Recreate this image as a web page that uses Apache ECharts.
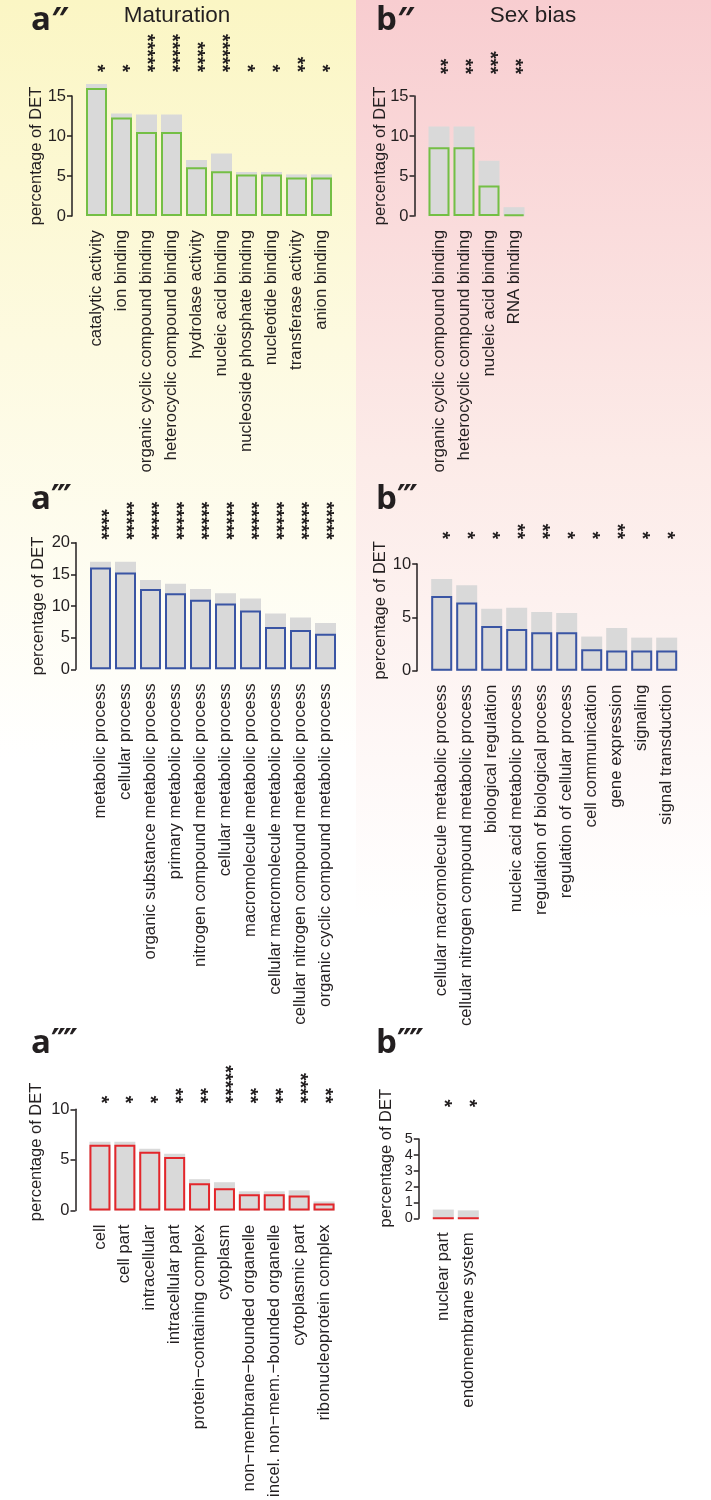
<!DOCTYPE html>
<html>
<head>
<meta charset="utf-8">
<script src="https://cdn.jsdelivr.net/npm/echarts@6/dist/echarts.min.js"></script>
<style>
  html, body { margin: 0; padding: 0; background: #ffffff; }
  #chart { width: 711px; height: 1500px; }
</style>
</head>
<body>
<div id="chart"></div>
<script>
// ---------- DATA ----------
// a'' Maturation – molecular function
const matMFCategories = ['catalytic activity', 'ion binding', 'organic cyclic compound binding', 'heterocyclic compound binding', 'hydrolase activity', 'nucleic acid binding', 'nucleoside phosphate binding', 'nucleotide binding', 'transferase activity', 'anion binding'];
const matMFTotal = [16.5, 12.8, 12.7, 12.7, 7.0, 7.8, 5.5, 5.5, 5.2, 5.2];
const matMFDET = [16.0, 12.3, 10.5, 10.5, 6.1, 5.6, 5.2, 5.2, 4.8, 4.8];
const matMFSig = ['*', '*', '*****', '*****', '****', '*****', '*', '*', '**', '*'];

// b'' Sex bias – molecular function
const sexMFCategories = ['organic cyclic compound binding', 'heterocyclic compound binding', 'nucleic acid binding', 'RNA binding'];
const sexMFTotal = [11.2, 11.2, 6.9, 1.1];
const sexMFDET = [8.6, 8.6, 3.8, 0.2];
const sexMFSig = ['**', '**', '***', '**'];

// a''' Maturation – biological process
const matBPCategories = ['metabolic process', 'cellular process', 'organic substance metabolic process', 'primary metabolic process', 'nitrogen compound metabolic process', 'cellular metabolic process', 'macromolecule metabolic process', 'cellular macromolecule metabolic process', 'cellular nitrogen compound metabolic process', 'organic cyclic compound metabolic process'];
const matBPTotal = [17.0, 17.0, 14.1, 13.5, 12.7, 12.0, 11.2, 8.8, 8.2, 7.3];
const matBPDET = [16.1, 15.3, 12.7, 12.0, 11.0, 10.4, 9.3, 6.7, 6.2, 5.6];
const matBPSig = ['****', '*****', '*****', '*****', '*****', '*****', '*****', '*****', '*****', '*****'];

// b''' Sex bias – biological process
const sexBPCategories = ['cellular macromolecule metabolic process', 'cellular nitrogen compound metabolic process', 'biological regulation', 'nucleic acid metabolic process', 'regulation of biological process', 'regulation of cellular process', 'cell communication', 'gene expression', 'signaling', 'signal transduction'];
const sexBPTotal = [8.6, 8.0, 5.8, 5.9, 5.5, 5.4, 3.2, 4.0, 3.1, 3.1];
const sexBPDET = [7.0, 6.4, 4.2, 3.9, 3.6, 3.6, 2.0, 1.9, 1.9, 1.9];
const sexBPSig = ['*', '*', '*', '**', '**', '*', '*', '**', '*', '*'];

// a'''' Maturation – cellular component
const matCCCategories = ['cell', 'cell part', 'intracellular', 'intracellular part', 'protein\u2212containing complex', 'cytoplasm', 'non\u2212membrane\u2212bounded organelle', 'incel. non\u2212mem.\u2212bounded organelle', 'cytoplasmic part', 'ribonucleoprotein complex'];
const matCCTotal = [6.8, 6.8, 6.1, 5.6, 3.1, 2.8, 1.9, 1.9, 2.0, 0.9];
const matCCDET = [6.5, 6.5, 5.8, 5.3, 2.7, 2.2, 1.6, 1.6, 1.5, 0.7];
const matCCSig = ['*', '*', '*', '**', '**', '*****', '**', '**', '****', '**'];

// b'''' Sex bias – cellular component
const sexCCCategories = ['nuclear part', 'endomembrane system'];
const sexCCTotal = [0.55, 0.5];
const sexCCDET = [0, 0];
const sexCCSig = ['*', '*'];

const yAxisName = 'percentage of DET';
const columnTitles = ['Maturation', 'Sex bias'];
const panelLetters = ['a\u2033', 'b\u2033', 'a\u2034', 'b\u2034', 'a\u2057', 'b\u2057'];

// ---------- LAYOUT / STYLE ----------
const FONT = "'Liberation Sans', Arial, sans-serif";
const INK = '#231f20';
const GREY = '#d9d9d9';
const GREEN = '#74bf45';
const BLUE = '#3a55a4';
const RED = '#e3262b';

const panels = [
  { cats: matMFCategories, tot: matMFTotal, det: matMFDET, sig: matMFSig, color: GREEN,
    grid: { left: 84, top: 96, width: 250, height: 120 }, max: 15, interval: 5, starMargin: 24, namePad: 0, nameGap: 27, labelFS: 16.5 },
  { cats: sexMFCategories, tot: sexMFTotal, det: sexMFDET, sig: sexMFSig, color: GREEN,
    grid: { left: 426.5, top: 96, width: 100, height: 120 }, max: 15, interval: 5, starMargin: 22, namePad: 0, nameGap: 26, labelFS: 16.5 },
  { cats: matBPCategories, tot: matBPTotal, det: matBPDET, sig: matBPSig, color: BLUE,
    grid: { left: 88, top: 542.7, width: 250, height: 126.6 }, max: 20, interval: 5, starMargin: 3, namePad: 0, nameGap: 29, labelFS: 16.5 },
  { cats: sexBPCategories, tot: sexBPTotal, det: sexBPDET, sig: sexBPSig, color: BLUE,
    grid: { left: 429.2, top: 564, width: 250, height: 106.7 }, max: 10, interval: 5, starMargin: 25, namePad: 14, nameGap: 28, labelFS: 16.5 },
  { cats: matCCCategories, tot: matCCTotal, det: matCCDET, sig: matCCSig, color: RED,
    grid: { left: 87.5, top: 1109.3, width: 249, height: 105.7 }, max: 10, interval: 5, starMargin: 6, namePad: 16, nameGap: 31, labelFS: 16.5 },
  { cats: sexCCCategories, tot: sexCCTotal, det: sexCCDET, sig: sexCCSig, color: RED,
    grid: { left: 430.8, top: 1139, width: 50, height: 79.3 }, max: 5, interval: 1, starMargin: 32, namePad: 41, nameGap: 24, labelFS: 14.5 }
];

const grids = [], xAxes = [], yAxes = [], series = [];
panels.forEach((p, i) => {
  grids.push(Object.assign({ containLabel: false }, p.grid));
  xAxes.push({
    gridIndex: i, type: 'category', data: p.cats, position: 'bottom',
    axisLine: { show: false }, axisTick: { show: false }, splitLine: { show: false },
    axisLabel: { rotate: 90, interval: 0, margin: 14, fontSize: 16.8, color: INK, fontFamily: FONT }
  });
  xAxes.push({
    gridIndex: i, type: 'category', data: p.sig, position: 'top',
    axisLine: { show: false }, axisTick: { show: false }, splitLine: { show: false },
    axisLabel: { rotate: 90, interval: 0, margin: p.starMargin, fontSize: 19.5, fontWeight: 'bold', color: INK, fontFamily: FONT, padding: [9, 0, 0, 0] }
  });
  yAxes.push({
    gridIndex: i, type: 'value', min: 0, max: p.max, interval: p.interval, offset: 12,
    splitLine: { show: false },
    axisLine: { show: true, lineStyle: { color: INK, width: 1.5 } },
    axisTick: { show: true, length: 5, lineStyle: { color: INK, width: 1.5 } },
    axisLabel: { color: INK, fontSize: p.labelFS, lineHeight: p.labelFS, margin: 6, fontFamily: FONT,
      showMinLabel: true, showMaxLabel: true, hideOverlap: false, minMargin: 0 },
    name: yAxisName, nameLocation: 'middle', nameGap: p.nameGap, nameMoveOverlap: false,
    nameTextStyle: { color: INK, fontSize: 16.5, fontFamily: FONT, padding: [0, 0, 0, p.namePad] }
  });
  series.push({
    type: 'bar', xAxisIndex: 2 * i, yAxisIndex: i, data: p.tot, barWidth: 21, barGap: '-100%',
    itemStyle: { color: GREY }, clip: false, silent: true
  });
  series.push({
    type: 'bar', xAxisIndex: 2 * i, yAxisIndex: i, data: p.det, barWidth: 21, barGap: '-100%',
    itemStyle: { color: 'rgba(0,0,0,0)', borderColor: p.color, borderWidth: 2 }, clip: false, silent: true
  });
});

const letterPos = [[31, 21], [376, 21], [31, 500], [376, 500], [31, 1044], [376, 1044]];
const graphics = [
  { type: 'rect', z: -10, silent: true, shape: { x: 0, y: 0, width: 356, height: 760 },
    style: { fill: new echarts.graphic.LinearGradient(0, 0, 0, 1, [
      { offset: 0, color: '#fbf6c4' }, { offset: 0.45, color: '#fdfae0' }, { offset: 1, color: '#ffffff' }]) } },
  { type: 'rect', z: -10, silent: true, shape: { x: 356, y: 0, width: 355, height: 920 },
    style: { fill: new echarts.graphic.LinearGradient(0, 0, 0, 1, [
      { offset: 0, color: '#f8cdd0' }, { offset: 0.5, color: '#fcebe8' }, { offset: 1, color: '#ffffff' }]) } },
  { type: 'text', x: 177, y: 16, style: { text: columnTitles[0], fontSize: 22.5, fontFamily: FONT, fill: INK, align: 'center', verticalAlign: 'middle' } },
  { type: 'text', x: 533, y: 16, style: { text: columnTitles[1], fontSize: 22.5, fontFamily: FONT, fill: INK, align: 'center', verticalAlign: 'middle' } }
];
panelLetters.forEach((t, i) => {
  graphics.push({ type: 'text', x: letterPos[i][0], y: letterPos[i][1],
    style: { text: t, fontSize: 33, fontWeight: 'bold', fontFamily: "'Open Sans', 'DejaVu Sans', sans-serif", fill: INK, align: 'left', verticalAlign: 'middle' } });
});

const chart = echarts.init(document.getElementById('chart'), null, { renderer: 'canvas' });
chart.setOption({
  animation: false,
  backgroundColor: '#ffffff',
  grid: grids, xAxis: xAxes, yAxis: yAxes, series: series,
  graphic: graphics
});
</script>
</body>
</html>
